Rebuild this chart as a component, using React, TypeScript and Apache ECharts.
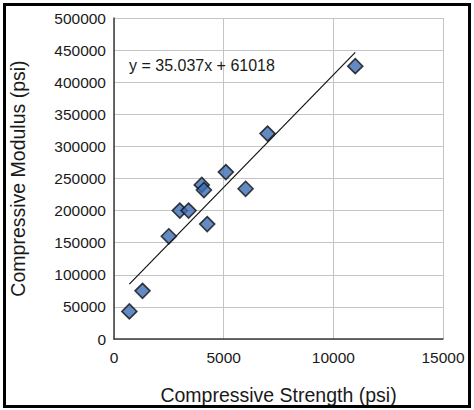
import React, { useEffect, useRef } from "react";
import * as echarts from "echarts";

const strength = [700, 1300, 2500, 3000, 3400, 4250, 4000, 4100, 5100, 6000, 7000, 11000];
const modulus = [43000, 75000, 160000, 200000, 200000, 179000, 240000, 232000, 260000, 234000, 320000, 425000];
const slope = 35.037;
const intercept = 61018;
const equationLabel = "y = 35.037x + 61018";
const xTitle = "Compressive Strength (psi)";
const yTitle = "Compressive Modulus (psi)";

const FONT = "'Liberation Sans', Arial, sans-serif";

export default function App() {
  const ref = useRef<HTMLDivElement>(null);
  useEffect(() => {
    if (!ref.current) return;
    const chart = echarts.init(ref.current, undefined, { renderer: "svg" });
    const pts = strength.map((x, i) => [x, modulus[i]]);
    const xMin = Math.min(...strength);
    const xMax = Math.max(...strength);
    const trend = [
      [xMin, slope * xMin + intercept],
      [xMax, slope * xMax + intercept],
    ];
    chart.setOption({
      animation: false,
      backgroundColor: "#ffffff",
      textStyle: { fontFamily: FONT },
      grid: { left: 107, top: 18, right: 31, bottom: 68, containLabel: false },
      xAxis: {
        type: "value",
        min: 0,
        max: 15000,
        interval: 5000,
        name: xTitle,
        nameLocation: "middle",
        nameGap: 46,
        nameTextStyle: { fontSize: 19.5, color: "#1a1a1a", fontFamily: FONT },
        axisLine: { show: true, lineStyle: { color: "#3a3a3a", width: 1.5 } },
        axisTick: { show: false },
        axisLabel: { fontSize: 15.5, color: "#1a1a1a", margin: 10, fontFamily: FONT, formatter: (v: number) => String(v) },
        splitLine: { show: true, lineStyle: { color: "#c4c4c4", width: 1 } },
      },
      yAxis: {
        type: "value",
        min: 0,
        max: 500000,
        interval: 50000,
        name: yTitle,
        nameLocation: "middle",
        nameGap: 86,
        nameRotate: 90,
        nameTextStyle: { fontSize: 19.5, color: "#1a1a1a", fontFamily: FONT },
        axisLine: { show: true, lineStyle: { color: "#3a3a3a", width: 1.5 } },
        axisTick: { show: false },
        axisLabel: { fontSize: 15.5, color: "#1a1a1a", margin: 8, fontFamily: FONT, formatter: (v: number) => String(v) },
        splitLine: { show: true, lineStyle: { color: "#c4c4c4", width: 1 } },
      },
      series: [
        {
          type: "line",
          data: trend,
          symbol: "none",
          lineStyle: { color: "#111111", width: 1.2 },
          z: 2,
        },
        {
          type: "scatter",
          data: pts,
          symbol: "diamond",
          symbolSize: 15,
          itemStyle: { color: "#3c6db4", borderColor: "#111111", borderWidth: 1.6 },
          z: 3,
        },
      ],
      graphic: [
        {
          type: "rect",
          shape: { x: 4.5, y: 4.5, width: 465, height: 402 },
          style: { fill: "none", stroke: "#000000", lineWidth: 3 },
          z: 10,
        },
        {
          type: "text",
          x: 129,
          y: 65,
          style: {
            text: equationLabel,
            fontSize: 16,
            fill: "#1a1a1a",
            fontFamily: FONT,
            verticalAlign: "middle",
            align: "left",
          },
          z: 10,
        },
      ],
    });
    return () => chart.dispose();
  }, []);
  return (
    <div
      ref={ref}
      style={{ position: "fixed", left: 0, top: 0, width: 474, height: 410 }}
    />
  );
}
